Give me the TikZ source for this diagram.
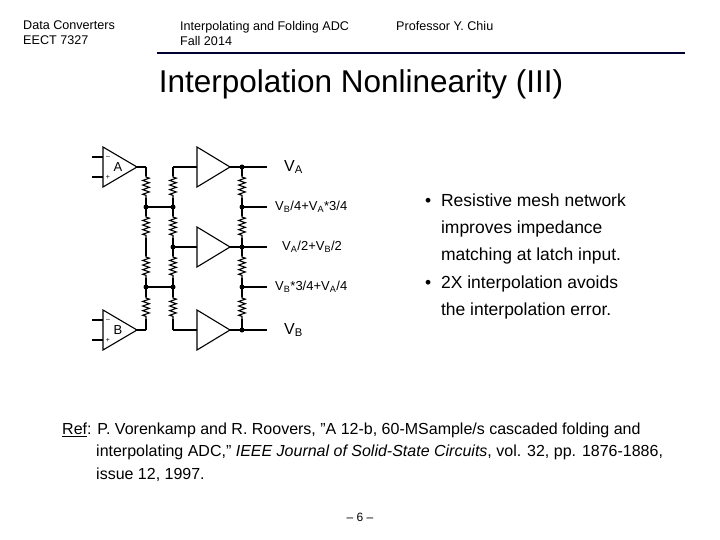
\documentclass[tikz,border=0pt]{standalone}
\usepackage{fontspec}
\setmainfont{Liberation Sans}
\usetikzlibrary{decorations.pathmorphing}
\begin{document}
\begin{tikzpicture}[x=1pt,y=-1pt,
  wire/.style={line width=1.1pt,black},
  resis/.style={line width=1.1pt,decorate,decoration={zigzag,segment length=4.6pt,amplitude=3.3pt,pre length=1pt,post length=1pt}},
  dotn/.style={circle,fill=black,inner sep=0pt,minimum size=5pt},
  hdr/.style={font=\fontsize{12.6}{15}\selectfont,anchor=north west,align=left,inner sep=0pt},
  lbl/.style={anchor=west,inner sep=0pt,font=\fontsize{13}{15}\selectfont},
  amp/.style={wire,fill=white}]
\useasboundingbox (0,0) rectangle (720,540);
% header
\node[hdr] (h1) at (23,21) {Data Converters\\EECT 7327};
\node[hdr] (h2) at (180,21) {Interpolating and Folding ADC\\Fall 2014};
\node[hdr] (h3) at (396,21) {Professor Y. Chiu};
\draw[line width=2pt,color=black!80!blue] (157,53) -- (685,53);
\node (title) at (361,84) {\fontsize{31.5}{35}\selectfont Interpolation Nonlinearity (III)};
% amplifiers
\draw[amp] (103,147) -- (137,167) -- (103,187) -- cycle;
\draw[amp] (103,310) -- (137,330) -- (103,350) -- cycle;
\node[inner sep=0pt,font=\fontsize{13}{13}\selectfont] (la) at (118,167) {A};
\node[inner sep=0pt,font=\fontsize{13}{13}\selectfont] (lb) at (118,330) {B};
\node[inner sep=0pt,font=\fontsize{7}{7}\selectfont] (ma) at (108,157) {--};
\node[inner sep=0pt,font=\fontsize{7}{7}\selectfont] (pa) at (108,177) {+};
\node[inner sep=0pt,font=\fontsize{7}{7}\selectfont] (mb) at (108,320) {--};
\node[inner sep=0pt,font=\fontsize{7}{7}\selectfont] (pb) at (108,340) {+};
\draw[wire] (92,157)--(103,157) (92,177)--(103,177) (92,320)--(103,320) (92,340)--(103,340);
% buffers
\foreach \y in {167,247,330}{\draw[amp] (197,\y-20) -- (230,\y) -- (197,\y+20) -- cycle;}
% columns
\foreach \x in {146,173,242}{
  \draw[wire] (\x,167) -- (\x,176); \draw[resis] (\x,176) -- (\x,198); \draw[wire] (\x,198)--(\x,216);
  \draw[resis] (\x,216) -- (\x,238); \draw[wire] (\x,238)--(\x,256);
  \draw[resis] (\x,256) -- (\x,278); \draw[wire] (\x,278)--(\x,297);
  \draw[resis] (\x,297) -- (\x,319); \draw[wire] (\x,319)--(\x,330);
}
\draw[wire] (137,167)--(146,167) (137,330)--(146,330);
\draw[wire] (173,167)--(197,167) (173,330)--(197,330) (173,247)--(197,247);
\draw[wire] (146,207)--(173,207) (146,287)--(173,287);
\foreach \y in {167,247,330}{\draw[wire] (230,\y)--(242,\y);}
\foreach \y in {167,207,247,287,330}{\draw[wire] (242,\y)--(267,\y); \node[dotn] at (242,\y) {};}
\foreach \p in {(146,207),(173,207),(146,287),(173,287),(173,247)}{\node[dotn] at \p {};}
\node[lbl,font=\fontsize{16}{16}\selectfont] (o1) at (284,167) {V$_{\mathrm{A}}$};
\node[lbl] (o2) at (275,207) {V$_{\mathrm{B}}$/4+V$_{\mathrm{A}}$*3/4};
\node[lbl] (o3) at (282,247) {V$_{\mathrm{A}}$/2+V$_{\mathrm{B}}$/2};
\node[lbl] (o4) at (275,287) {V$_{\mathrm{B}}$*3/4+V$_{\mathrm{A}}$/4};
\node[lbl,font=\fontsize{16}{16}\selectfont] (o5) at (284,330) {V$_{\mathrm{B}}$};
% bullets
\node[anchor=west,inner sep=0pt,align=left,font=\fontsize{17.5}{27}\selectfont] (b1) at (425,229)
 {\textbullet\ \ Resistive mesh network\\\phantom{\textbullet\ \ }improves impedance\\\phantom{\textbullet\ \ }matching at latch input.};
\node[anchor=west,inner sep=0pt,align=left,font=\fontsize{17.5}{27}\selectfont] (b2) at (425,297)
 {\textbullet\ \ 2X interpolation avoids\\\phantom{\textbullet\ \ }the interpolation error.};
% ref
\node[anchor=west,inner sep=0pt,align=left,font=\fontsize{16}{22.5}\selectfont] (ref) at (62,452)
 {\underline{Ref}: P. Vorenkamp and R. Roovers, ''A 12-b, 60-MSample/s cascaded folding and\\
 \hspace*{34pt}interpolating ADC,'' \textit{IEEE Journal of Solid-State Circuits}, vol. 32, pp. 1876-1886,\\
 \hspace*{34pt}issue 12, 1997.};
\node[font=\fontsize{12}{12}\selectfont] (pg) at (360,517) {-- 6 --};
\end{tikzpicture}
\end{document}
